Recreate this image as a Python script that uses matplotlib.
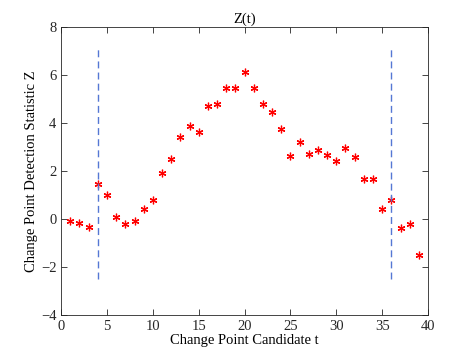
import numpy as np
import matplotlib
matplotlib.use('Agg')
import matplotlib.pyplot as plt

# candidate change points and the statistic Z(t)
t = list(range(1, 40))
z = [-0.07, -0.18, -0.35, 1.44, 1.01, 0.10, -0.21, -0.08, 0.40, 0.80,
     1.90, 2.50, 3.40, 3.87, 3.63, 4.71, 4.77, 5.44, 5.44, 6.11,
     5.46, 4.81, 4.44, 3.73, 2.62, 3.19, 2.69, 2.88, 2.66, 2.40,
     2.94, 2.59, 1.68, 1.65, 0.43, 0.79, -0.36, -0.19, -1.49]
# detected change points
cp = [4, 36]

plt.rcParams['font.family'] = ['Liberation Serif', 'DejaVu Serif']
plt.rcParams['font.size'] = 10.5

fig = plt.figure(figsize=(4.74, 3.59), dpi=100)
ax = fig.add_axes([0.129, 0.1226, 0.774, 0.8024])

ax.plot(t, z, linestyle='none', marker=(6, 2, 0), color='red',
        markersize=5.5, markeredgewidth=0.9)

zlo = min(z) - 1
zhi = max(z) + 1
for c in cp:
    ax.plot([c, c], [zlo, zhi], linestyle='--', color='#5577d4',
            linewidth=1.0, dashes=(5, 3))

ax.set_xlim(0, 40)
ax.set_ylim(-4, 8)
ax.set_xticks(np.arange(0, 41, 5))
ax.set_yticks(np.arange(-4, 9, 2))
ax.tick_params(direction='in', top=True, right=True, length=4,
               width=0.6, colors='#262626', labelsize=10.5)
for s in ax.spines.values():
    s.set_linewidth(0.6)
    s.set_color('#262626')

ax.set_title('Z(t)', fontsize=10.5, pad=3)
ax.set_xlabel('Change Point Candidate t', fontsize=10.5, labelpad=1)
ax.set_ylabel('Change Point Detection Statistic Z', fontsize=10.5, labelpad=2)

fig.savefig('out.png', dpi=100)
